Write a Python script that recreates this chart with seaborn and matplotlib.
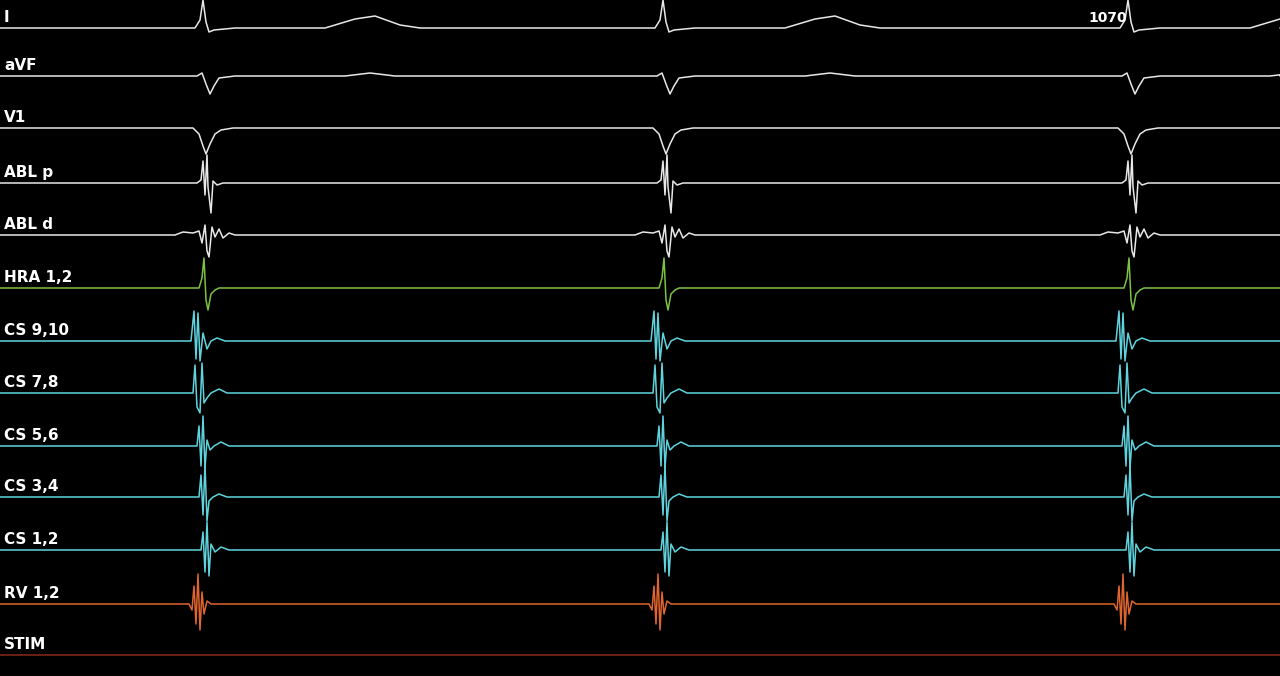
import matplotlib.pyplot as plt
import numpy as np
import pandas as pd
import seaborn as sns

# beat positions (px along the sweep) and channel setup
beat_x = [205, 665, 1130]
channels = ["I", "aVF", "V1", "ABL p", "ABL d", "HRA 1,2", "CS 9,10", "CS 7,8",
            "CS 5,6", "CS 3,4", "CS 1,2", "RV 1,2", "STIM"]
baselines = [28, 76, 128, 183, 235, 288, 341, 393, 446, 497, 550, 604, 655]
colors = ["#e8e8e8"] * 5 + ["#7cc241"] + ["#5fd4df"] * 5 + ["#e0652e", "#8a2b1b"]

# beat templates: (dx, dy) relative to beat position / baseline, dy up is negative
templates = {
    "I": [(-10, 0), (-5, -8), (-2, -28), (1, -6), (4, 4), (9, 2), (30, 0), (120, 0),
          (150, -9), (170, -12), (195, -3), (215, 0)],
    "aVF": [(-8, 0), (-3, -3), (1, 8), (5, 18), (9, 10), (14, 2), (30, 0), (140, 0),
            (165, -3), (190, 0)],
    "V1": [(-12, 0), (-6, 6), (-2, 18), (1, 26), (5, 16), (10, 6), (16, 2), (28, 0)],
    "ABL p": [(-8, 0), (-4, -3), (-2, -22), (0, 12), (2, -28), (3, 4), (6, 30), (8, -2),
              (12, 2), (18, 0)],
    "ABL d": [(-30, 0), (-22, -3), (-12, -2), (-6, -4), (-3, 8), (0, -10), (2, 16),
              (4, 22), (7, -8), (10, 2), (14, -6), (18, 3), (24, -2), (30, 0)],
    "HRA 1,2": [(-6, 0), (-3, -10), (-1, -30), (1, 12), (3, 22), (6, 6), (10, 2), (14, 0)],
    "CS 9,10": [(-14, 0), (-11, -30), (-9, 18), (-7, -28), (-5, 20), (-2, -8), (2, 8),
                (6, 0), (12, -3), (20, 0)],
    "CS 7,8": [(-12, 0), (-10, -28), (-8, 14), (-5, 20), (-3, -30), (-1, 10), (2, 5),
               (6, 0), (14, -4), (22, 0)],
    "CS 5,6": [(-8, 0), (-6, -20), (-4, 20), (-2, -30), (0, 22), (2, -6), (5, 4),
               (9, 0), (16, -4), (24, 0)],
    "CS 3,4": [(-6, 0), (-4, -22), (-2, 18), (0, -32), (2, 24), (4, 4), (8, 0),
               (14, -3), (22, 0)],
    "CS 1,2": [(-4, 0), (-2, -18), (0, 22), (2, -28), (4, 26), (6, -6), (10, 2),
               (16, -3), (24, 0)],
    "RV 1,2": [(-16, 0), (-13, 6), (-11, -18), (-9, 20), (-7, -30), (-5, 26),
               (-3, -12), (-1, 10), (2, -3), (6, 0)],
    "STIM": [(0, 0)],
}
interval_label = "1070"

rows = []
for ch, base in zip(channels, baselines):
    pts = [(0, base)]
    for bx in beat_x:
        for dx, dy in templates[ch]:
            pts.append((bx + dx, base + dy))
    pts.append((1280, base))
    for x, y in pts:
        rows.append({"channel": ch, "x": x, "y": y})
df = pd.DataFrame(rows)

sns.set_style("dark", {"axes.facecolor": "black", "figure.facecolor": "black"})
plt.rcParams["font.family"] = ["DejaVu Sans"]
fig = plt.figure(figsize=(12.8, 6.76), dpi=100)
ax = fig.add_axes([0, 0, 1, 1])
ax.set_facecolor("black")
sns.lineplot(data=df, x="x", y="y", hue="channel", palette=dict(zip(channels, colors)),
             estimator=None, sort=False, linewidth=1.1, legend=False, ax=ax)
for ch, base in zip(channels, baselines):
    ax.text(4, base - 3, ch, color="white", fontsize=11, fontweight="bold", va="bottom")
ax.text(1088, 22, interval_label, color="white", fontsize=10, fontweight="bold")
ax.set_xlim(0, 1280)
ax.set_ylim(676, 0)
ax.set_axis_off()
fig.savefig("out.png", dpi=100, facecolor="black")
